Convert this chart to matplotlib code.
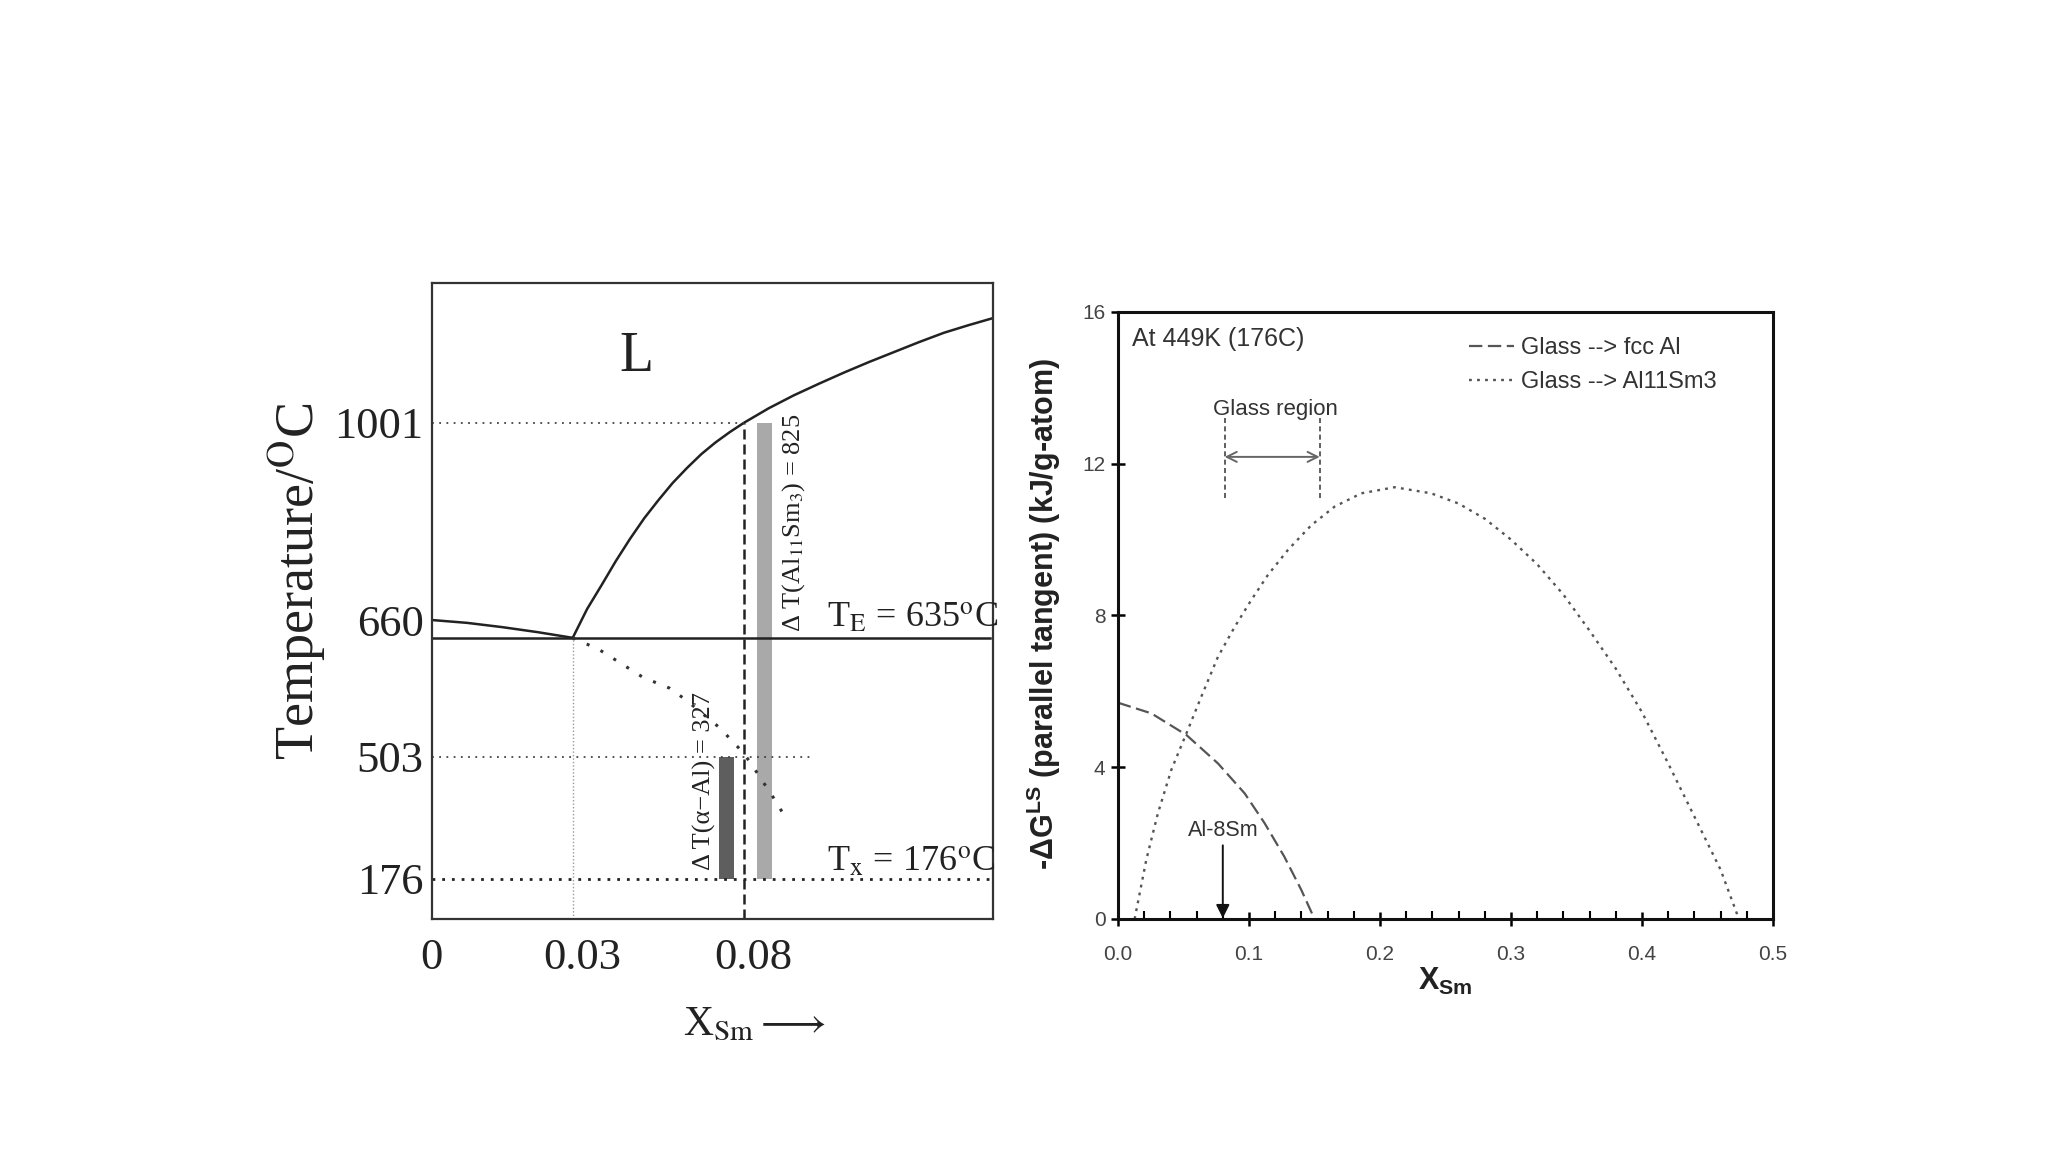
import numpy as np
import matplotlib
matplotlib.use("Agg")
import matplotlib.pyplot as plt
import matplotlib.transforms as mtransforms
from matplotlib.ticker import MultipleLocator

plt.rcParams['mathtext.fontset'] = 'custom'
plt.rcParams['mathtext.rm'] = 'Liberation Sans'
plt.rcParams['mathtext.bf'] = 'Liberation Sans:bold'
plt.rcParams['mathtext.it'] = 'Liberation Sans:italic'

# ---- left panel: schematic Al-Sm phase diagram ----
X_TICKS = [0, 0.03, 0.08]
X_TICK_LABELS = ["0", "0.03", "0.08"]
T_TICKS = [176, 503, 660, 1001]
T_TICK_LABELS = ["176", "503", "660", "1001"]
X_EUT = 0.03
X_ALLOY = 0.08
T_EUT = 635
T_X = 176
T_ALPHA = 503
T_LIQ = 1001

# Al liquidus (solid line, from pure Al to eutectic)
al_liq_x = [0.0, 0.0075, 0.015, 0.0225, 0.03]
al_liq_t = [660, 656, 650, 643, 635]

# metastable extension of Al liquidus (dotted)
al_meta_x = [0.03, 0.0377, 0.0506, 0.0584, 0.0631, 0.073, 0.0797, 0.0818, 0.0897, 0.092]
al_meta_t = [635, 622, 591, 579, 566, 535, 508, 489, 379, 342]

# Al11Sm3 liquidus
sm_liq_x = [0.03, 0.0342, 0.0384, 0.0426, 0.0467, 0.0509, 0.0550, 0.0592, 0.0634,
            0.0676, 0.0717, 0.0759, 0.08, 0.0873, 0.0946, 0.1020, 0.1093, 0.1166,
            0.1239, 0.1312, 0.1385, 0.1457, 0.1528]
sm_liq_t = [635, 679, 720, 762, 800, 836, 867, 897, 923,
            947, 967, 985, 1001, 1026, 1048, 1068, 1087, 1105,
            1122, 1139, 1155, 1168, 1180]

# undercooling bars
bar_alpha_x = 0.0749
bar_sm_x = 0.0860

# ---- right panel: driving force ----
fcc_x = [0.0, 0.0254, 0.0522, 0.0763, 0.0967, 0.112, 0.127, 0.140, 0.150]
fcc_g = [5.70, 5.42, 4.85, 4.10, 3.31, 2.52, 1.64, 0.76, 0.0]

al11_x = [0.0127, 0.0216, 0.0305, 0.0407, 0.0522, 0.0636, 0.0763, 0.0891, 0.1018,
          0.1145, 0.1298, 0.1476, 0.1654, 0.1858, 0.2112, 0.239, 0.26, 0.28, 0.30,
          0.32, 0.34, 0.36, 0.38, 0.40, 0.42, 0.44, 0.46, 0.474]
al11_g = [0.0, 1.56, 2.79, 3.93, 4.89, 5.86, 6.91, 7.70, 8.41,
          9.07, 9.73, 10.38, 10.87, 11.22, 11.38, 11.22, 10.95, 10.55, 10.0,
          9.35, 8.55, 7.6, 6.6, 5.45, 4.1, 2.7, 1.3, 0.0]

glass_lo = 0.0814
glass_hi = 0.154
alloy_x = 0.08

# schematic (piecewise) axis mapping of the left diagram
XK = [-0.1, 0.0, 0.03, 0.3]
XF = [-0.837, 0.0, 0.251, 1.898]
YK = [-500, 176, 503, 635, 660, 1001, 2000]
YF = [-0.334, 0.063, 0.255, 0.442, 0.470, 0.780, 1.699]


def xf(v):
    return np.interp(v, XK, XF)


def xi(v):
    return np.interp(v, XF, XK)


def yf(v):
    return np.interp(v, YK, YF)


def yi(v):
    return np.interp(v, YF, YK)


fig = plt.figure(figsize=(20.48, 11.52), dpi=100)
SERIF = 'Liberation Serif'

ax1 = fig.add_axes([0.2109, 0.2023, 0.2739, 0.5521])
ax1.set_xscale('function', functions=(xf, xi))
ax1.set_yscale('function', functions=(yf, yi))
xmax = float(xi(1.0))
ax1.set_xlim(0, xmax)
ax1.set_ylim(float(yi(0.0)), float(yi(1.0)))

ax1.plot(al_liq_x, al_liq_t, color='#222', lw=1.8)
ax1.plot(sm_liq_x, sm_liq_t, color='#222', lw=1.8)
ax1.plot([0, xmax * 0.995], [T_EUT, T_EUT], color='#222', lw=1.8)
ax1.plot(al_meta_x, al_meta_t, color='#333', lw=2.2, ls=(0, (1, 4)))
ax1.plot([0, X_ALLOY], [T_LIQ, T_LIQ], color='#444', lw=1.3, ls=(0, (1, 3)))
ax1.plot([0, 0.0996], [T_ALPHA, T_ALPHA], color='#444', lw=1.3, ls=(0, (1, 3)))
ax1.plot([0, xmax], [T_X, T_X], color='#222', lw=2.0, ls=(0, (1, 2.5)))
ax1.plot([X_EUT, X_EUT], [yi(0.0), T_EUT], color='#999', lw=1.0, ls=(0, (1, 1.5)))
ax1.plot([X_ALLOY, X_ALLOY], [yi(0.0), T_LIQ], color='#222', lw=1.8, ls=(0, (4, 2)))
ax1.bar(bar_alpha_x, T_ALPHA - T_X, bottom=T_X, width=0.0044, color='#5e5e5e')
ax1.bar(bar_sm_x, T_LIQ - T_X, bottom=T_X, width=0.0044, color='#a9a9a9')

ax1.set_xticks(X_TICKS)
ax1.set_xticklabels(X_TICK_LABELS)
ax1.set_yticks(T_TICKS)
ax1.set_yticklabels(T_TICK_LABELS)
ax1.xaxis.set_minor_locator(plt.NullLocator())
ax1.yaxis.set_minor_locator(plt.NullLocator())
ax1.tick_params(length=0, labelsize=32, colors='#222')
ax1.tick_params(axis='x', pad=14)
ax1.tick_params(axis='y', pad=6)
for lab in ax1.get_xticklabels() + ax1.get_yticklabels():
    lab.set_family(SERIF)
shift = mtransforms.ScaledTranslation(7 / 72, 0, fig.dpi_scale_trans)
for lab in ax1.get_xticklabels()[1:]:
    lab.set_transform(lab.get_transform() + shift)
for sp in ax1.spines.values():
    sp.set_linewidth(1.6)
    sp.set_color('#333')

ax1.set_ylabel(r'Temperature/$^{\rm O}$C', family=SERIF, fontsize=39,
               math_fontfamily='stix', color='#222')
ax1.yaxis.set_label_coords(-0.183, 0.53)
ax1.set_xlabel(r'X$_{\rm Sm}$$\longrightarrow$', family=SERIF, fontsize=30,
               math_fontfamily='stix', color='#222')
ax1.xaxis.set_label_coords(0.575, -0.137)

ax1.text(0.364, 0.884, 'L', transform=ax1.transAxes, family=SERIF, fontsize=40,
         ha='center', va='center', color='#222')
ax1.text(0.704, 0.447, r'T$_{\rm E}$ = 635$^{\rm o}$C', transform=ax1.transAxes,
         family=SERIF, fontsize=26, math_fontfamily='stix', ha='left', va='bottom', color='#222')
ax1.text(0.704, 0.062, r'T$_{\rm x}$ = 176$^{\rm o}$C', transform=ax1.transAxes,
         family=SERIF, fontsize=26, math_fontfamily='stix', ha='left', va='bottom', color='#222')
ax1.text(0.645, 0.623, r'Δ T(Al$_{\rm 11}$Sm$_{\rm 3}$) = 825', transform=ax1.transAxes,
         family=SERIF, fontsize=19, math_fontfamily='stix', rotation=90,
         ha='center', va='center', color='#222')
ax1.text(0.485, 0.217, 'Δ T(α−Al) = 327', transform=ax1.transAxes,
         family=SERIF, fontsize=19, rotation=90, ha='center', va='center', color='#222')

# ---- right panel ----
SANS = 'Liberation Sans'
ax2 = fig.add_axes([0.5459, 0.2023, 0.3198, 0.5269])
ax2.plot(fcc_x, fcc_g, color='#555', lw=1.6, ls=(0, (6, 2.5)), label='Glass --> fcc Al')
ax2.plot(al11_x, al11_g, color='#555', lw=1.7, ls=(0, (1.2, 2.2)), label='Glass --> Al11Sm3')
ax2.set_xlim(0, 0.5)
ax2.set_ylim(0, 16)
ax2.set_xticks(np.arange(0, 0.51, 0.1))
ax2.set_xticklabels(['0.0', '0.1', '0.2', '0.3', '0.4', '0.5'])
ax2.xaxis.set_minor_locator(MultipleLocator(0.02))
ax2.set_yticks([0, 4, 8, 12, 16])
ax2.tick_params(axis='both', which='major', direction='inout', length=10, width=1.8,
                labelsize=15, labelcolor='#444')
ax2.tick_params(axis='x', which='minor', direction='in', length=6, width=1.5)
ax2.tick_params(axis='x', which='major', pad=14)
ax2.tick_params(axis='y', which='major', pad=4)
for lab in ax2.get_xticklabels() + ax2.get_yticklabels():
    lab.set_family(SANS)
for sp in ax2.spines.values():
    sp.set_linewidth(2.2)
    sp.set_color('#111')

ax2.set_ylabel(r'-ΔG$^{\mathbf{LS}}$ (parallel tangent) (kJ/g-atom)', family=SANS,
               fontweight='bold', fontsize=22, color='#222')
ax2.yaxis.set_label_coords(-0.084, 0.502)
ax2.set_xlabel(r'$\mathbf{X_{Sm}}$', fontsize=22, color='#222')
ax2.xaxis.set_label_coords(0.5, -0.078)

ax2.text(0.0107, 15.28, 'At 449K (176C)', family=SANS, fontsize=18, color='#333',
         ha='left', va='center')
ax2.text(0.12, 13.42, 'Glass region', family=SANS, fontsize=16, color='#333',
         ha='center', va='center')
ax2.plot([glass_lo, glass_lo], [11.1, 13.2], color='#444', lw=1.2, ls=(0, (3, 2)))
ax2.plot([glass_hi, glass_hi], [11.1, 13.2], color='#444', lw=1.2, ls=(0, (3, 2)))
ax2.annotate('', xy=(glass_lo, 12.18), xytext=(glass_hi, 12.18),
             arrowprops=dict(arrowstyle='<->', color='#666', lw=1.4, mutation_scale=18,
                             shrinkA=0, shrinkB=0))
ax2.annotate('Al-8Sm', xy=(alloy_x, 0.02), xytext=(alloy_x, 2.05), family=SANS,
             fontsize=15.5, color='#333', ha='center', va='bottom',
             arrowprops=dict(arrowstyle='-|>', color='#111', lw=1.4, mutation_scale=20,
                             shrinkA=1, shrinkB=0))

leg = ax2.legend(loc='upper left', bbox_to_anchor=(0.536, 0.958), frameon=False,
                 prop={'family': SANS, 'size': 17}, handlelength=1.9, handletextpad=0.3,
                 labelspacing=0.5, borderpad=0, borderaxespad=0)
for t in leg.get_texts():
    t.set_color('#333')

fig.savefig('out.png', dpi=100, facecolor='white')
